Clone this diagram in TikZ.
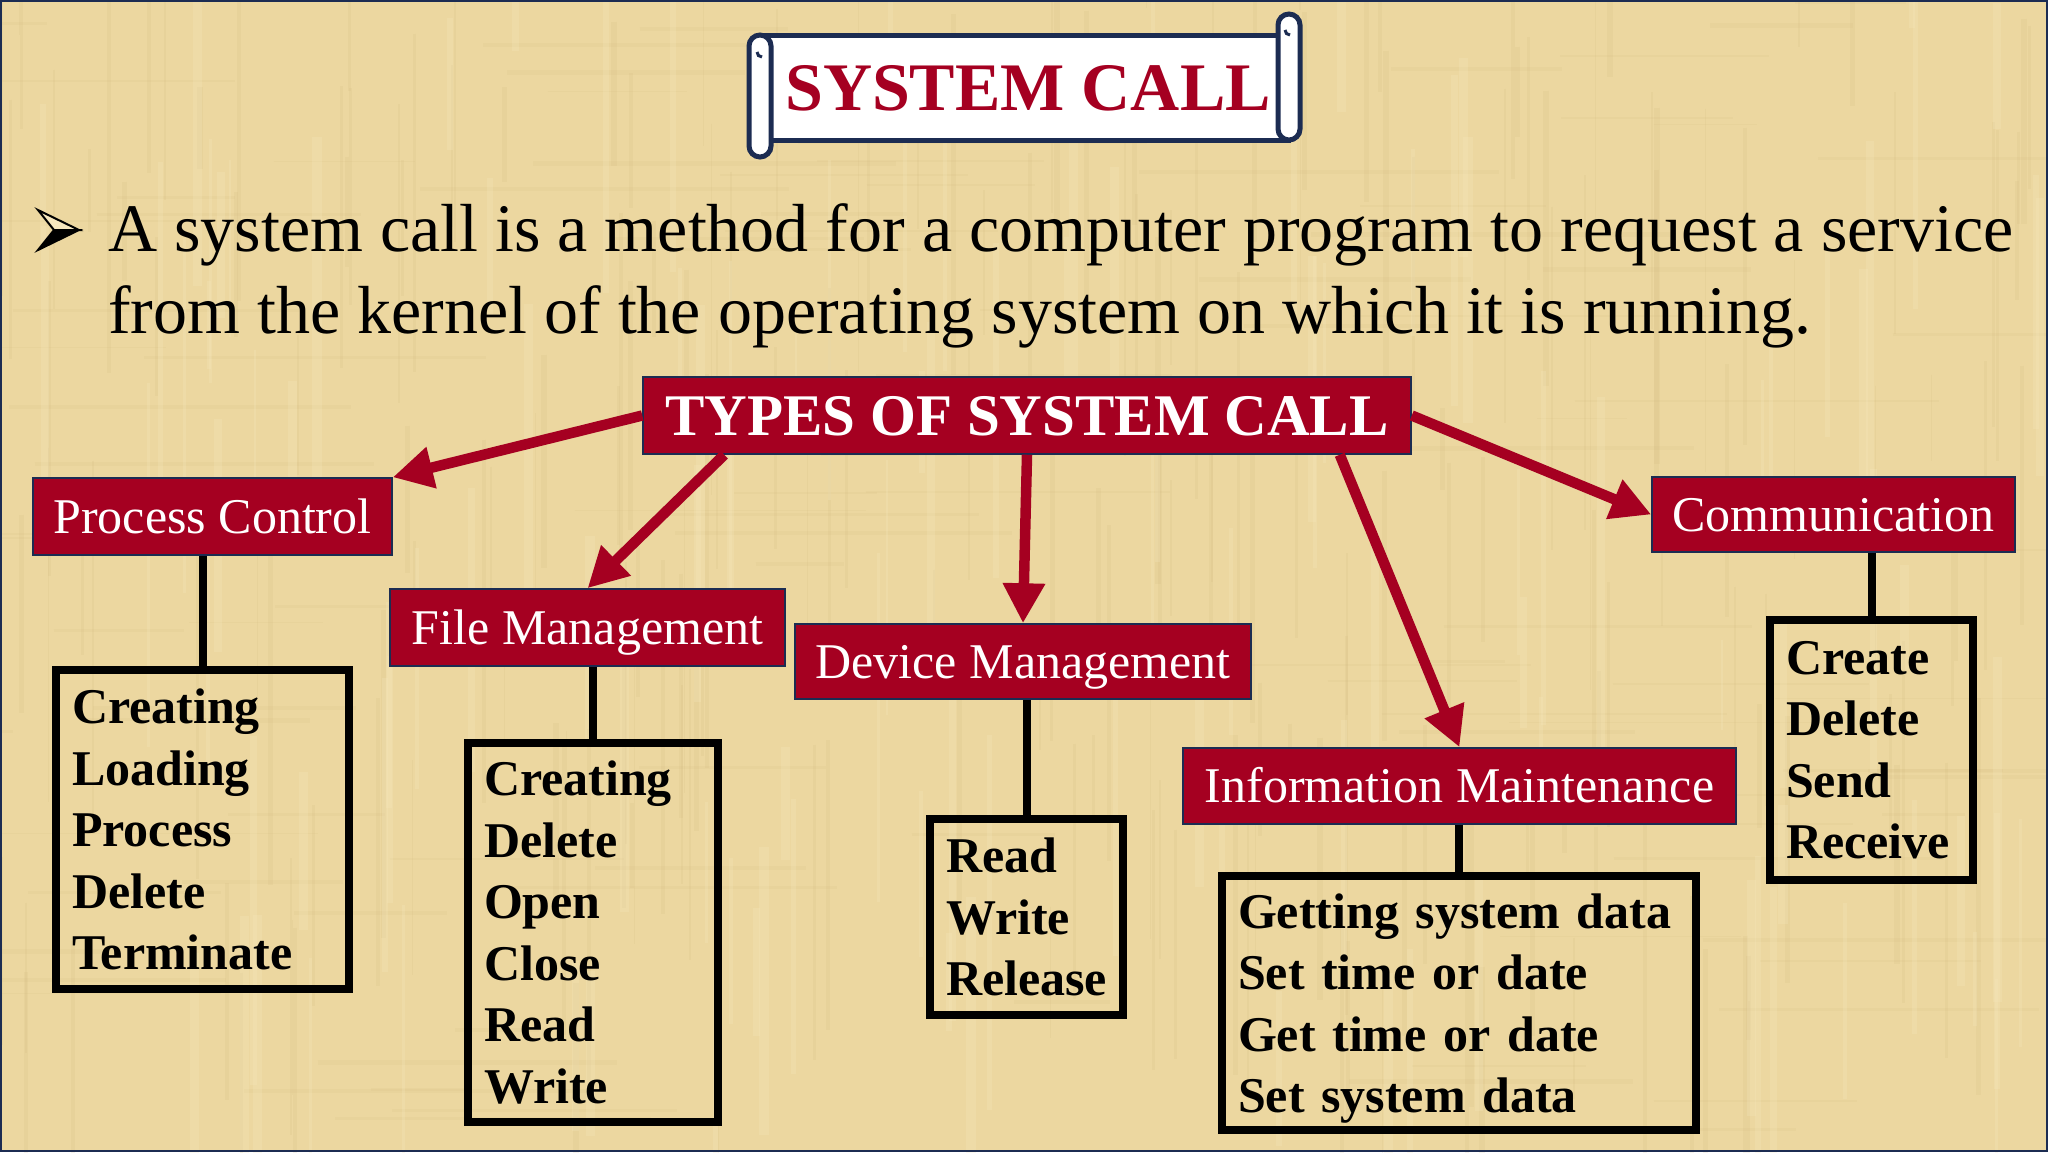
\documentclass[tikz,border=0pt]{standalone}
\usepackage{fontspec}
\setmainfont{Liberation Serif}
\usetikzlibrary{arrows.meta,calc}
\definecolor{bg}{RGB}{236,215,160}
\definecolor{bgdark}{RGB}{205,180,120}
\definecolor{bglight}{RGB}{246,231,190}
\definecolor{crimson}{RGB}{165,0,33}
\definecolor{navy}{RGB}{28,44,82}
\begin{document}
\begin{tikzpicture}[x=1pt,y=-1pt,
  redbox/.style={fill=crimson, draw=navy, line width=1.5pt, text=white, inner sep=0pt,
    font=\fontsize{50}{60}\selectfont, text height=33pt, text depth=0pt},
  typesbox/.style={redbox, font=\fontsize{59}{70}\selectfont\bfseries, text height=39pt},
  listbox/.style={draw=black, line width=8pt, inner xsep=16pt, inner ysep=0pt, align=left,
    font=\fontsize{50}{61.5}\selectfont\bfseries},
  conn/.style={draw=black, line width=8pt},
  arr/.style={draw=crimson, line width=10.5pt, -{Triangle[length=40pt,width=40pt]}},
  scrollln/.style={draw=navy, line width=5pt, fill=white},
  desc/.style={anchor=base west, inner sep=0pt, font=\fontsize{68}{82}\selectfont}
]
% background
\useasboundingbox (0,0) rectangle (2048,1152);
\fill[bg] (0,0) rectangle (2048,1152);
\begin{scope}
\clip (0,0) rectangle (2048,1152);
\pgfmathsetseed{11}
\foreach \i in {1,...,220}{
  \pgfmathsetmacro\xx{rnd*2048}
  \pgfmathsetmacro\yy{rnd*1152-150}
  \pgfmathsetmacro\ll{80+rnd*320}
  \pgfmathsetmacro\ww{1+rnd*5}
  \draw[bgdark, opacity=0.14, line width=\ww pt] (\xx,\yy) -- ++(0,\ll);
}
\foreach \i in {1,...,120}{
  \pgfmathsetmacro\xx{rnd*2048-150}
  \pgfmathsetmacro\yy{rnd*1152}
  \pgfmathsetmacro\ll{80+rnd*300}
  \pgfmathsetmacro\ww{1+rnd*4}
  \draw[bgdark, opacity=0.10, line width=\ww pt] (\xx,\yy) -- ++(\ll,0);
}
\foreach \i in {1,...,120}{
  \pgfmathsetmacro\xx{rnd*2048}
  \pgfmathsetmacro\yy{rnd*1152-150}
  \pgfmathsetmacro\ll{80+rnd*300}
  \pgfmathsetmacro\ww{2+rnd*8}
  \draw[bglight, opacity=0.25, line width=\ww pt] (\xx,\yy) -- ++(0,\ll);
}
\end{scope}
\draw[navy, line width=2pt] (1,1) rectangle (2047,1151);

% title scroll
\draw[scrollln] (765,35) rectangle (1288,140);
\draw[scrollln, rounded corners=11pt] (749,35) rectangle (771,157);
\draw[scrollln, rounded corners=11pt] (1278,14) rectangle (1300,140);
\draw[navy, line width=3pt] (757,52) arc (180:90:5);
\draw[navy, line width=3pt] (1285,30) arc (180:90:5);
\node[font=\fontsize{68}{80}\selectfont\bfseries, text=crimson, inner sep=0pt] (ttl) at (1028,88) {SYSTEM CALL};

% bullet and description
\filldraw[draw=black, fill=bglight, line width=2pt, line join=miter] (38,210) -- (79,230) -- (54,230) -- cycle;
\filldraw[draw=black, fill=black, line width=2pt, line join=miter] (54,230) -- (79,230) -- (38,250) -- cycle;
\node[desc] (d1) at (108,251) {A system call is a method for a computer program to request a service};
\node[desc] (d2) at (108,333) {from the kernel of the operating system on which it is running.};

% category boxes
\node[typesbox, minimum width=768pt, minimum height=77pt] (types) at (1027,415.5) {TYPES OF SYSTEM CALL};
\node[redbox, minimum width=359pt, minimum height=77pt] (pc) at (212.5,516.5) {Process Control};
\node[redbox, minimum width=395pt, minimum height=77pt] (fm) at (587.5,627.5) {File Management};
\node[redbox, minimum width=456pt, minimum height=75pt] (dm) at (1023,661.5) {Device Management};
\node[redbox, minimum width=553pt, minimum height=76pt] (im) at (1459.5,786) {Information Maintenance};
\node[redbox, minimum width=363pt, minimum height=75pt] (cm) at (1833.5,514.5) {Communication};

% list boxes
\node[listbox, text width=261pt, minimum height=319pt] (pl) at (202.5,829.5) {Creating\\Loading\\Process\\Delete\\Terminate};
\node[listbox, text width=218pt, minimum height=379pt] (fl) at (593,932.5) {Creating\\Delete\\Open\\Close\\Read\\Write};
\node[listbox, text width=161pt, minimum height=196pt] (dl) at (1026.5,917) {Read\\Write\\Release};
\node[listbox, text width=442pt, minimum height=254pt] (il) at (1459,1003) {Getting system data\\Set time or date\\Get time or date\\\raisebox{0pt}[\height][0pt]{Set system data}};
\node[listbox, text width=171pt, minimum height=260pt] (cl) at (1871.5,750) {Create\\Delete\\Send\\Receive};

% connectors
\draw[conn] (pl.north |- pc.south) -- (pl.north);
\draw[conn] (fl.north |- fm.south) -- (fl.north);
\draw[conn] (dl.north |- dm.south) -- (dl.north);
\draw[conn] (il.north |- im.south) -- (il.north);
\draw[conn] (cl.north |- cm.south) -- (cl.north);

% arrows
\draw[arr] (types.west) -- (pc.north east);
\draw[arr] ([xshift=82pt]types.south west) -- (fm.north);
\draw[arr] (types.south) -- (dm.north);
\draw[arr] ([xshift=-72pt]types.south east) -- (im.north);
\draw[arr] (types.east) -- (cm.west);
\end{tikzpicture}
\end{document}
